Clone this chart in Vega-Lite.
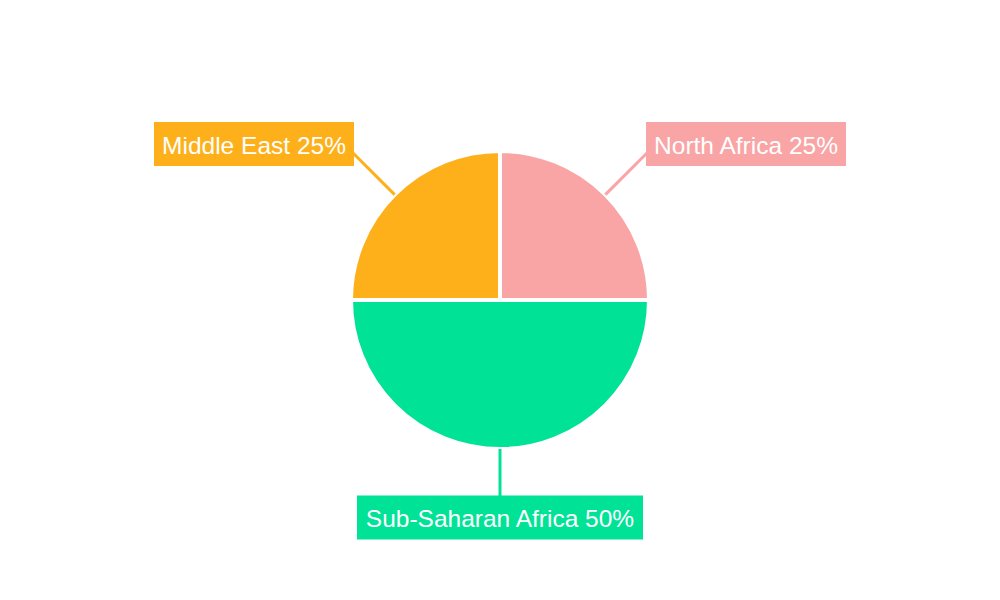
{
  "$schema": "https://vega.github.io/schema/vega-lite/v6.json",
  "width": 1000,
  "height": 600,
  "padding": 0,
  "autosize": {"type": "fit", "contains": "padding"},
  "background": "white",
  "config": {"view": {"stroke": null}},
  "data": {
    "values": [
      {"region": "North Africa", "value": 25, "label": "North Africa 25%"},
      {"region": "Sub-Saharan Africa", "value": 50, "label": "Sub-Saharan Africa 50%"},
      {"region": "Middle East", "value": 25, "label": "Middle East 25%"}
    ]
  },
  "encoding": {
    "color": {
      "field": "region",
      "type": "nominal",
      "scale": {
        "domain": ["North Africa", "Sub-Saharan Africa", "Middle East"],
        "range": ["#F9A4A5", "#00E396", "#FDB01A"]
      },
      "legend": null
    }
  },
  "layer": [
    {
      "mark": {"type": "arc", "outerRadius": 149, "stroke": "white", "strokeWidth": 4},
      "encoding": {
        "theta": {
          "field": "value",
          "type": "quantitative",
          "stack": true,
          "scale": {"range": [-1.5707963, 4.712389]}
        }
      }
    },
    {
      "mark": {"type": "point", "filled": true, "opacity": 1, "size": 40000, "strokeWidth": 0},
      "encoding": {
        "x": {
          "field": "region",
          "type": "nominal",
          "scale": {"type": "point", "domain": ["Middle East", "Sub-Saharan Africa", "North Africa"], "range": [254, 746], "padding": 0},
          "axis": null
        },
        "y": {
          "field": "value",
          "type": "quantitative",
          "scale": {"domain": [25, 50], "range": [144, 517.5], "nice": false, "zero": false},
          "axis": null
        },
        "shape": {
          "field": "region",
          "type": "nominal",
          "scale": {
            "domain": ["North Africa", "Sub-Saharan Africa", "Middle East"],
            "range": [
              "M-1,-0.22L1,-0.22L1,0.22L-1,0.22Z",
              "M-1.43,-0.22L1.43,-0.22L1.43,0.22L-1.43,0.22Z",
              "M-1,-0.22L1,-0.22L1,0.22L-1,0.22Z"
            ]
          },
          "legend": null
        }
      }
    },
    {
      "mark": {"type": "point", "filled": false, "opacity": 1, "size": 40000, "strokeWidth": 3},
      "encoding": {
        "x": {"field": "region", "type": "nominal"},
        "y": {"field": "value", "type": "quantitative"},
        "shape": {
          "field": "region",
          "type": "nominal",
          "scale": {
            "domain": ["North Africa", "Sub-Saharan Africa", "Middle East"],
            "range": [
              "M-0.99,0.09L-1.406,0.506",
              "M0,-0.215L0,-0.685",
              "M0.99,0.09L1.406,0.506"
            ]
          },
          "legend": null
        }
      }
    },
    {
      "mark": {
        "type": "text",
        "font": "Liberation Sans",
        "fontSize": 24.5,
        "align": "center",
        "baseline": "middle",
        "dy": 2.5,
        "color": "white"
      },
      "encoding": {
        "x": {"field": "region", "type": "nominal"},
        "y": {"field": "value", "type": "quantitative"},
        "text": {"field": "label"},
        "color": {"value": "white"}
      }
    }
  ],
  "resolve": {"scale": {"shape": "independent"}}
}
